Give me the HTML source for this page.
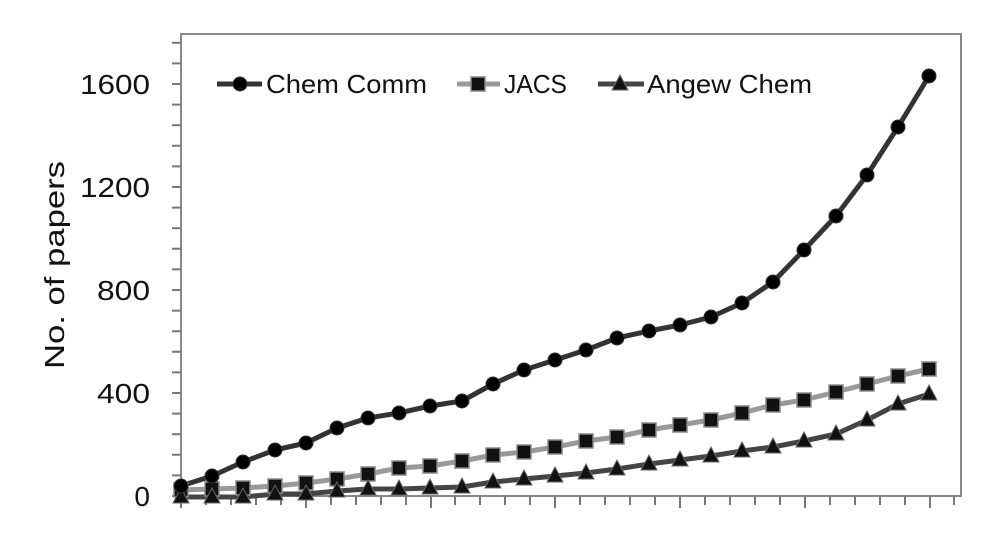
<!DOCTYPE html><html><head><style>body{margin:0;background:#fff}</style></head><body>
<svg width="992" height="536" xmlns="http://www.w3.org/2000/svg" font-family="Liberation Sans, sans-serif">
<defs>
<circle id="c" r="7" fill="#000" stroke="#333" stroke-width="1"/>
<rect id="s" x="-7" y="-7" width="14" height="14" fill="#111" stroke="#888" stroke-width="1.5"/>
<polygon id="t" points="0,-9 8,6 -8,6" fill="#111" stroke="#666" stroke-width="1"/>
</defs>
<rect x="181" y="34" width="780" height="462" fill="#fff" stroke="#888" stroke-width="2"/>
<path stroke="#777" stroke-width="2" fill="none" d="M172 496H181M172 475.4H181M172 454.8H181M172 434.2H181M172 413.6H181M172 393H181M172 372.4H181M172 351.8H181M172 331.2H181M172 310.6H181M172 290H181M172 269.4H181M172 248.8H181M172 228.2H181M172 207.6H181M172 187H181M172 166.4H181M172 145.8H181M172 125.2H181M172 104.6H181M172 84H181M172 63.4H181M172 42.8H181
M181 496V508M206 496V505M231 496V505M256 496V505M281 496V505M306 496V508M331 496V505M356 496V505M381 496V505M406 496V505M431 496V508M455 496V505M480 496V505M505 496V505M530 496V505M555 496V508M580 496V505M605 496V505M630 496V505M655 496V505M680 496V508M705 496V505M730 496V505M755 496V505M780 496V505M805 496V508M830 496V505M855 496V505M880 496V505M905 496V505M930 496V508M954 496V505"/>
<g font-size="28" fill="#111" text-anchor="end">
<text x="150" y="506">0</text><text x="150" y="403" textLength="53" lengthAdjust="spacingAndGlyphs">400</text><text x="150" y="300" textLength="53" lengthAdjust="spacingAndGlyphs">800</text><text x="150" y="197" textLength="70" lengthAdjust="spacingAndGlyphs">1200</text><text x="150" y="94" textLength="70" lengthAdjust="spacingAndGlyphs">1600</text>
</g>
<text transform="translate(64,265) rotate(-90)" font-size="28" fill="#111" text-anchor="middle" textLength="208" lengthAdjust="spacingAndGlyphs">No. of papers</text>

<polyline fill="none" stroke="#999" stroke-width="5" stroke-linejoin="round" points="181,490 212,489 243,488 275,486 306,483 337,479 368,474 399,468 430,466 462,461 493,455 524,452 555,447 586,441 617,437 649,430 680,425 711,420 742,413 773,405 804,400 836,392 867,384 898,376 929,369"/>
<polyline fill="none" stroke="#444" stroke-width="5" stroke-linejoin="round" points="181,497 212,497 243,497 275,494 306,494 337,491 368,489 399,489 430,488 462,487 493,482 524,479 555,476 586,473 617,469 649,464 680,460 711,456 742,451 773,447 804,441 836,434 867,420 898,404 929,394"/>
<polyline fill="none" stroke="#333" stroke-width="5" stroke-linejoin="round" points="181,486 212,476 243,462 275,450 306,443 337,428 368,418 399,413 430,406 462,401 493,384 524,370 555,360 586,350 617,338 649,331 680,325 711,317 742,303 773,282 804,250 836,216 867,175 898,127 929,76"/>

<use href="#s" x="181" y="490"/><use href="#s" x="212" y="489"/><use href="#s" x="243" y="488"/><use href="#s" x="275" y="486"/><use href="#s" x="306" y="483"/><use href="#s" x="337" y="479"/><use href="#s" x="368" y="474"/><use href="#s" x="399" y="468"/><use href="#s" x="430" y="466"/><use href="#s" x="462" y="461"/><use href="#s" x="493" y="455"/><use href="#s" x="524" y="452"/><use href="#s" x="555" y="447"/><use href="#s" x="586" y="441"/><use href="#s" x="617" y="437"/><use href="#s" x="649" y="430"/><use href="#s" x="680" y="425"/><use href="#s" x="711" y="420"/><use href="#s" x="742" y="413"/><use href="#s" x="773" y="405"/><use href="#s" x="804" y="400"/><use href="#s" x="836" y="392"/><use href="#s" x="867" y="384"/><use href="#s" x="898" y="376"/><use href="#s" x="929" y="369"/>

<use href="#t" x="181" y="497"/><use href="#t" x="212" y="497"/><use href="#t" x="243" y="497"/><use href="#t" x="275" y="494"/><use href="#t" x="306" y="494"/><use href="#t" x="337" y="491"/><use href="#t" x="368" y="489"/><use href="#t" x="399" y="489"/><use href="#t" x="430" y="488"/><use href="#t" x="462" y="487"/><use href="#t" x="493" y="482"/><use href="#t" x="524" y="479"/><use href="#t" x="555" y="476"/><use href="#t" x="586" y="473"/><use href="#t" x="617" y="469"/><use href="#t" x="649" y="464"/><use href="#t" x="680" y="460"/><use href="#t" x="711" y="456"/><use href="#t" x="742" y="451"/><use href="#t" x="773" y="447"/><use href="#t" x="804" y="441"/><use href="#t" x="836" y="434"/><use href="#t" x="867" y="420"/><use href="#t" x="898" y="404"/><use href="#t" x="929" y="394"/>

<use href="#c" x="181" y="486"/><use href="#c" x="212" y="476"/><use href="#c" x="243" y="462"/><use href="#c" x="275" y="450"/><use href="#c" x="306" y="443"/><use href="#c" x="337" y="428"/><use href="#c" x="368" y="418"/><use href="#c" x="399" y="413"/><use href="#c" x="430" y="406"/><use href="#c" x="462" y="401"/><use href="#c" x="493" y="384"/><use href="#c" x="524" y="370"/><use href="#c" x="555" y="360"/><use href="#c" x="586" y="350"/><use href="#c" x="617" y="338"/><use href="#c" x="649" y="331"/><use href="#c" x="680" y="325"/><use href="#c" x="711" y="317"/><use href="#c" x="742" y="303"/><use href="#c" x="773" y="282"/><use href="#c" x="804" y="250"/><use href="#c" x="836" y="216"/><use href="#c" x="867" y="175"/><use href="#c" x="898" y="127"/><use href="#c" x="929" y="76"/>

<g font-size="26" fill="#111">
<line x1="217" y1="84" x2="262" y2="84" stroke="#333" stroke-width="5"/><use href="#c" x="240" y="84"/><text x="266" y="93" textLength="161" lengthAdjust="spacingAndGlyphs">Chem Comm</text>
<line x1="457" y1="84" x2="500" y2="84" stroke="#999" stroke-width="5"/><use href="#s" x="478" y="84"/><text x="504" y="93" textLength="63" lengthAdjust="spacingAndGlyphs">JACS</text>
<line x1="598" y1="84" x2="644" y2="84" stroke="#444" stroke-width="5"/><use href="#t" x="620" y="84"/><text x="647" y="93" textLength="165" lengthAdjust="spacingAndGlyphs">Angew Chem</text>
</g>
</svg></body></html>
